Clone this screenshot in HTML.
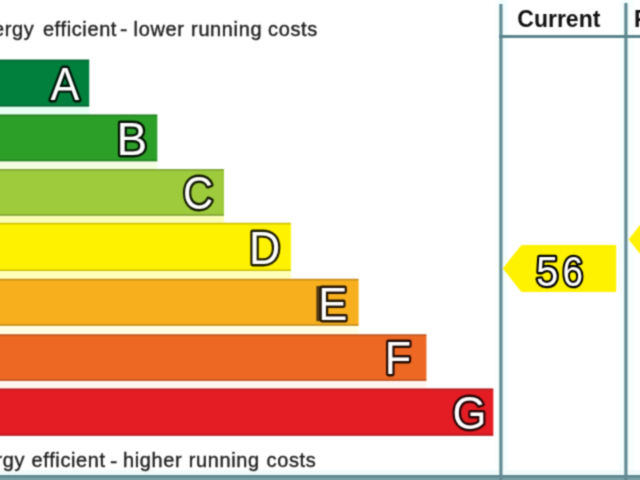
<!DOCTYPE html>
<html><head><meta charset="utf-8">
<style>
html,body{margin:0;padding:0;background:#fff;}
body{width:640px;height:480px;overflow:hidden;}
svg{display:block;}
.lbl{font-family:"Liberation Sans",Arial,sans-serif;font-size:21px;fill:#222;stroke:#222;stroke-width:0.4px;letter-spacing:0.18px;}
.band{font-family:"Liberation Sans",Arial,sans-serif;font-size:46px;fill:#fff;stroke:#000;stroke-width:4.8px;stroke-linejoin:round;paint-order:stroke;text-anchor:middle;}
.lbl2{letter-spacing:0.68px;}
.hdr{font-family:"Liberation Sans",Arial,sans-serif;font-size:23px;font-weight:bold;fill:#111;}
.num{font-family:"Liberation Sans",Arial,sans-serif;font-size:42px;fill:#fff;stroke:#000;stroke-width:4.6px;stroke-linejoin:round;paint-order:stroke;text-anchor:middle;}
</style></head>
<body>
<svg width="640" height="480" viewBox="0 0 640 480">
<defs><filter id="soft" x="-5%" y="-5%" width="110%" height="110%" color-interpolation-filters="sRGB"><feConvolveMatrix order="3" kernelMatrix="0.0400 0.1200 0.0400 0.1200 0.3600 0.1200 0.0400 0.1200 0.0400" divisor="1" edgeMode="duplicate"/></filter><linearGradient id="cy" x1="0" x2="1" y1="0" y2="0"><stop offset="0" stop-color="#eefcfc" stop-opacity="0"/><stop offset="0.5" stop-color="#eefcfc" stop-opacity="1"/><stop offset="1" stop-color="#eefcfc" stop-opacity="0"/></linearGradient></defs>
<g filter="url(#soft)">
<rect x="-20" y="-20" width="680" height="520" fill="#fff"/>
<text class="lbl lbl2" transform="scale(0.95 1)" y="36"><tspan x="-32.11">energy</tspan><tspan x="45.16">efficient</tspan><tspan x="140.63">lower</tspan><tspan x="201.16">running</tspan><tspan x="282.21">costs</tspan></text>
<rect x="-20" y="106.6" width="109.2" height="7.9" fill="#e6fff5"/>
<rect x="-20" y="161.3" width="177.3" height="7.8" fill="#f4ffe2"/>
<rect x="-20" y="215.8" width="244.0" height="7.0" fill="#fbfdb4"/>
<rect x="-20" y="271.0" width="310.9" height="7.8" fill="#ffffb8"/>
<rect x="-20" y="325.8" width="378.6" height="8.5" fill="#fffee2"/>
<rect x="-20" y="380.9" width="446.4" height="7.6" fill="#fff4ef"/>
<rect x="-20" y="59.6" width="109.2" height="47.0" fill="#007f3d"/>
<rect x="-20" y="114.5" width="177.3" height="46.8" fill="#2c9f29"/>
<rect x="-20" y="169.1" width="244.0" height="46.7" fill="#9dcb3c"/>
<rect x="-20" y="222.8" width="310.9" height="48.2" fill="#fff200"/>
<rect x="-20" y="278.8" width="378.6" height="47.0" fill="#f7af1d"/>
<rect x="-20" y="334.3" width="446.4" height="46.6" fill="#ed6823"/>
<rect x="-20" y="388.5" width="513.3" height="47.3" fill="#e31d23"/>
<rect x="-20" y="59.6" width="109.2" height="1.6" fill="#000" fill-opacity="0.2"/><rect x="-20" y="105.0" width="109.2" height="1.6" fill="#000" fill-opacity="0.2"/>
<rect x="-20" y="114.5" width="177.3" height="1.6" fill="#000" fill-opacity="0.2"/><rect x="-20" y="159.7" width="177.3" height="1.6" fill="#000" fill-opacity="0.2"/>
<rect x="-20" y="169.1" width="244.0" height="1.6" fill="#000" fill-opacity="0.2"/><rect x="-20" y="214.2" width="244.0" height="1.6" fill="#000" fill-opacity="0.2"/>
<rect x="-20" y="222.8" width="310.9" height="1.6" fill="#000" fill-opacity="0.2"/><rect x="-20" y="269.4" width="310.9" height="1.6" fill="#000" fill-opacity="0.2"/>
<rect x="-20" y="278.8" width="378.6" height="1.6" fill="#000" fill-opacity="0.2"/><rect x="-20" y="324.2" width="378.6" height="1.6" fill="#000" fill-opacity="0.2"/>
<rect x="-20" y="334.3" width="446.4" height="1.6" fill="#000" fill-opacity="0.2"/><rect x="-20" y="379.3" width="446.4" height="1.6" fill="#000" fill-opacity="0.2"/>
<rect x="-20" y="388.5" width="513.3" height="1.6" fill="#000" fill-opacity="0.2"/><rect x="-20" y="434.2" width="513.3" height="1.6" fill="#000" fill-opacity="0.2"/>
<text class="band" transform="translate(64.80 99.8) scale(0.94 1)" style="stroke:#00150a">A</text>
<text class="band" transform="translate(131.9 154.8) scale(1.0 1)" style="stroke:#061505">B</text>
<text class="band" transform="translate(198.1 209.2) scale(0.91 1.02)" style="stroke:#121800">C</text>
<text class="band" transform="translate(264.61 264.2) scale(0.94 1)" style="stroke:#1c1a00">D</text>
<rect x="316.4" y="286" width="4.5" height="35.2" fill="#4d3a16"/>
<text class="band" transform="translate(332.8 320.2) scale(0.95 1)" style="stroke:#241505">E</text>
<text class="band" transform="translate(397.9 374.2) scale(0.94 0.99)" style="stroke:#260a04">F</text>
<text class="band" transform="translate(469.5 428.8) scale(0.95 1)" style="stroke:#2a0406">G</text>
<rect x="-20" y="470" width="680" height="5" fill="#f0fafa"/>
<text class="lbl" transform="translate(120.1 36.4) scale(1.05 1)">-</text>
<text class="lbl" transform="translate(110.1 468.2) scale(1.05 1)">-</text>
<text class="lbl lbl2" transform="scale(0.95 1)" y="467.5"><tspan x="-41.89">energy</tspan><tspan x="33.26">efficient</tspan><tspan x="129.37">higher</tspan><tspan x="198.74">running</tspan><tspan x="280.63">costs</tspan></text>
<rect x="-20" y="475" width="680" height="30" fill="#7b9fa6"/>
<rect x="-20" y="475" width="680" height="2.6" fill="#5e8890"/>
<rect x="494" y="0" width="16" height="475" fill="url(#cy)"/><rect x="617" y="0" width="18" height="475" fill="url(#cy)"/>
<rect x="499.3" y="4" width="3.2" height="500" fill="#628a93"/>
<rect x="624.3" y="3" width="3.2" height="500" fill="#628a93"/>
<rect x="499" y="35" width="161" height="3" fill="#5a858c"/>
<text class="hdr" x="517.3" y="26.5">Current</text>
<text class="hdr" x="634" y="26.5">Potential</text>
<polygon points="502.8,268.4 521.4,244.9 616.2,244.9 616.2,291.9 521.4,291.9" fill="#fff200"/>
<polygon points="628.6,239.4 647.2,215.9 700,215.9 700,262.9 647.2,262.9" fill="#fff200"/>
<text class="num" transform="translate(547.3 285.9) scale(0.96 1)">5</text>
<text class="num" transform="translate(572.75 285.9) scale(0.88 1)">6</text>
</g>
</svg>
</body></html>
